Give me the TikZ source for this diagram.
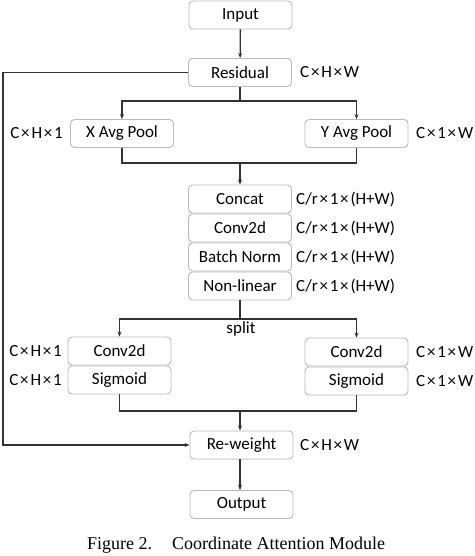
\documentclass[tikz,border=0pt]{standalone}
\usepackage{fontspec}
\setmainfont{Carlito}
\newfontfamily\capfont{Liberation Serif}
\usetikzlibrary{arrows.meta}
\newcommand{\tms}{\kern1.8pt×\kern1.8pt}
\tikzstyle{block}=[draw=gray!55,line width=0.9pt,rounded corners=4pt,minimum width=103pt,minimum height=28pt,inner sep=0pt,font=\fontsize{17}{20}\selectfont]
\tikzstyle{dim}=[inner sep=0pt,font=\fontsize{17}{20}\selectfont]
\tikzstyle{link}=[line width=1.3pt,draw=black!80]
\tikzstyle{arr}=[link,-{Stealth[length=5pt,width=4pt]}]

\begin{document}
\begin{tikzpicture}[x=1pt,y=-1pt]
\useasboundingbox (0,0) rectangle (474,556);
\node[block] at (240.5, 15) (input) {Input};
\node[block] at (240, 72.5) (residual) {Residual};
\node[block] at (122, 133.5) (xpool) {X Avg Pool};
\node[block] at (356.5, 133.5) (ypool) {Y Avg Pool};
\node[block] at (240, 199) (concat) {Concat};
\node[block] at (240, 228) (conv) {Conv2d};
\node[block] at (240, 257) (bn) {Batch Norm};
\node[block] at (240, 286) (nonlin) {Non-linear};
\node[block] at (119.5, 351) (lconv) {Conv2d};
\node[block] at (119.5, 380) (lsig) {Sigmoid};
\node[block] at (356.5, 352) (rconv) {Conv2d};
\node[block] at (356.5, 381) (rsig) {Sigmoid};
\node[block] at (241.5, 445) (reweight) {Re-weight};
\node[block] at (241.5, 504.5) (output) {Output};

% shapes
\node[dim, anchor = west] at (300, 72.5) (dres) {C\tms H\tms W};
\node[dim, anchor = east] at (63, 133.5) (dxpool) {C\tms H\tms 1};
\node[dim, anchor = west] at (416, 133.5) (dypool) {C\tms 1\tms W};
\node[dim, anchor = west] at (296, 199) (dconcat) {C/r\tms 1\tms (H+W)};
\node[dim, anchor = west] at (296, 228) (dconv) {C/r\tms 1\tms (H+W)};
\node[dim, anchor = west] at (296, 257) (dbn) {C/r\tms 1\tms (H+W)};
\node[dim, anchor = west] at (296, 286) (dnonlin) {C/r\tms 1\tms (H+W)};
\node[dim, anchor = east] at (62, 351) (dlconv) {C\tms H\tms 1};
\node[dim, anchor = east] at (62, 380) (dlsig) {C\tms H\tms 1};
\node[dim, anchor = west] at (416, 352) (drconv) {C\tms 1\tms W};
\node[dim, anchor = west] at (416, 381) (drsig) {C\tms 1\tms W};
\node[dim, anchor = west] at (300, 445) (dreweight) {C\tms H\tms W};
\node[dim] at (241, 329) (split) {split};

\coordinate (fork1) at (240, 101);
\coordinate (join1) at (240, 163);
\coordinate (fork2) at (240, 319);
\coordinate (join2) at (240, 411);
\coordinate (corner) at (3, 72.5);

\draw[arr] (input) -- (residual);
\draw[link] (residual.south) -- (fork1);
\draw[arr] (fork1) -| (xpool.north);
\draw[arr] (fork1) -| (ypool.north);
\draw[link] (xpool.south) |- (join1) -| (ypool.south);
\draw[arr] (join1) -- (concat.north);
\draw[link] (nonlin.south) -- (fork2);
\draw[arr] (fork2) -| (lconv.north);
\draw[arr] (fork2) -| (rconv.north);
\draw[link] (lsig.south) |- (join2) -| (rsig.south);
\draw[arr] (join2) -- (join2 |- reweight.north);
\draw[arr] (residual.west) -- (corner) |- (reweight.west);
\draw[arr] (reweight.south -| join2) -- (output.north -| join2);

\node at (236, 545) (caption) {\capfont\fontsize{18}{20}\selectfont Figure 2.\hspace{20pt}Coordinate Attention Module};
\end{tikzpicture}
\end{document}
